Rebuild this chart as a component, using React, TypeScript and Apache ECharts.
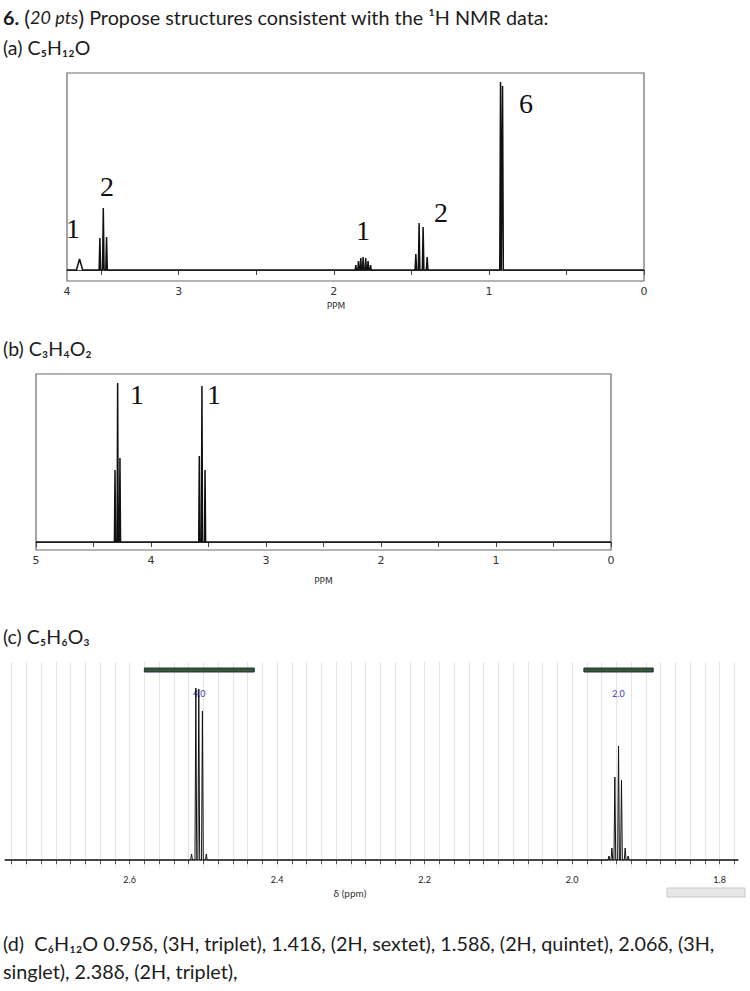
import React, { useEffect, useRef } from "react";
import * as echarts from "echarts";

// ---------- DATA ----------
// (a) C5H12O : [ppm, height, half-width]
const peaksA: number[][] = [
  [3.639, 11, 0.02],
  [3.508, 32, 0.005], [3.486, 62, 0.005], [3.465, 33, 0.005],
  [1.858, 5, 0.004], [1.841, 9, 0.004], [1.826, 12, 0.004], [1.811, 13, 0.004],
  [1.794, 12, 0.004], [1.779, 9, 0.004], [1.763, 5, 0.004],
  [1.471, 16, 0.005], [1.45, 47, 0.005], [1.424, 43, 0.005], [1.398, 13, 0.005],
  [0.925, 188, 0.005], [0.912, 184, 0.005],
];
const integA = ["1", "2", "1", "2", "6"];
const ticksA = [0, 0.5, 1, 1.5, 2, 2.5, 3, 3.5];
const labelValsA = [0, 1, 2, 3];
const edgeLabelA = "4";

// (b) C3H4O2
const peaksB: number[][] = [
  [4.313, 72, 0.005], [4.29, 159, 0.005], [4.27, 84, 0.005],
  [3.58, 86, 0.005], [3.557, 156, 0.005], [3.53, 72, 0.005],
];
const integB = ["1", "1"];

// (c) C5H6O3
const peaksC: number[][] = [
  [2.516, 6, 0.0012], [2.5102, 172, 0.0012], [2.5062, 171, 0.0012], [2.5013, 149, 0.0012], [2.496, 6, 0.0012],
  [1.95, 4, 0.0012], [1.946, 12, 0.0012], [1.942, 83, 0.0012], [1.937, 114, 0.0012],
  [1.933, 80, 0.0012], [1.928, 12, 0.0012], [1.924, 4, 0.0012],
];
const integralsC: number[][] = [
  [2.58, 2.431],
  [1.984, 1.89],
];
const integralLabelsC = ["4.0", "2.0"];
const labelValsC = [1.8, 2.0, 2.2, 2.4, 2.6];

// ---------- HELPERS ----------
function buildSpectrum(peaks: number[][], lo: number, hi: number) {
  const sorted = [...peaks].sort((a, b) => b[0] - a[0]);
  const pts: number[][] = [[hi, 0]];
  for (const [p, h, w] of sorted) {
    pts.push([p + w, 0], [p, h], [p - w, 0]);
  }
  pts.push([lo, 0]);
  return pts;
}

const FONT_BODY = "Lato, 'Open Sans', sans-serif";
const FONT_PEAK = "'Liberation Serif', 'DejaVu Serif', serif";
const FONT_AXIS = "'DejaVu Sans', sans-serif";
const TXT = "#1c1c1c";

const A_MAX = 3.72;
const C_MIN = 1.775;
const C_MAX = 2.769;

const ticksC: number[] = [];
for (let i = 89; i <= 138; i++) ticksC.push(+(i * 0.02).toFixed(2));

function text(x: number, y: number, t: string, font: any, extra: any = {}) {
  return {
    type: "text",
    x,
    y,
    silent: true,
    style: {
      text: t,
      fill: TXT,
      align: "left",
      verticalAlign: "middle",
      ...font,
      ...extra,
    },
  };
}

export default function App() {
  const ref = useRef<HTMLDivElement>(null);
  useEffect(() => {
    if (!ref.current) return;
    const chart = echarts.init(ref.current, null, { renderer: "svg" });

    const peakLabelPosA = [
      [73, 228], [107, 186], [363, 230], [441, 212], [526, 103],
    ];
    const peakLabelPosB = [
      [137, 394], [214, 394],
    ];

    const graphic: any[] = [
      {
        type: "text",
        x: 3,
        y: 17,
        silent: true,
        style: {
          text: "{b|6.} {p|(}{i|20 pts}{p|)} Propose structures consistent with the ¹H NMR data:",
          fill: TXT,
          fontFamily: FONT_BODY,
          fontSize: 19.8,
          verticalAlign: "middle",
          rich: {
            b: { fontWeight: "bold", fontSize: 19.8, fontFamily: FONT_BODY, fill: TXT },
            p: { fontSize: 22, fontFamily: FONT_BODY, fill: TXT },
            i: { fontStyle: "italic", fontSize: 18, fontFamily: FONT_BODY, fill: TXT },
          },
        },
      },
      text(3, 47, "(a) C₅H₁₂O", { fontFamily: FONT_BODY, fontSize: 19.5 }),
      text(3, 348, "(b) C₃H₄O₂", { fontFamily: FONT_BODY, fontSize: 19.5 }),
      text(3, 636, "(c) C₅H₆O₃", { fontFamily: FONT_BODY, fontSize: 19.5 }),
      text(3, 943, "(d)  C₆H₁₂O 0.95δ, (3H, triplet), 1.41δ, (2H, sextet), 1.58δ, (2H, quintet), 2.06δ, (3H,", { fontFamily: FONT_BODY, fontSize: 19.8 }),
      text(3, 971, "singlet), 2.38δ, (2H, triplet),", { fontFamily: FONT_BODY, fontSize: 19.8 }),
      text(336, 306, "PPM", { fontFamily: FONT_AXIS, fontSize: 9, fill: "#333", align: "center" }),
      text(350, 893, "δ (ppm)", { fontFamily: FONT_BODY, fontSize: 10, fill: "#333", align: "center" }),
      {
        type: "rect",
        silent: true,
        shape: { x: 667, y: 888, width: 78, height: 9 },
        style: { fill: "#e6e6e6", stroke: "#c9c9c9", lineWidth: 1 },
      },
    ];
    integA.forEach((t, i) => {
      graphic.push(text(peakLabelPosA[i][0], peakLabelPosA[i][1], t, { fontFamily: FONT_PEAK, fontSize: 28, align: "center", fill: "#111" }));
    });
    integB.forEach((t, i) => {
      graphic.push(text(peakLabelPosB[i][0], peakLabelPosB[i][1], t, { fontFamily: FONT_PEAK, fontSize: 28, align: "center", fill: "#111" }));
    });

    const option: any = {
      animation: false,
      backgroundColor: "#ffffff",
      grid: [
        { left: 67, top: 73, width: 577, height: 208, show: true, borderColor: "#6a6a6a", borderWidth: 1.2, backgroundColor: "transparent" },
        { left: 36, top: 374, width: 575, height: 176, show: true, borderColor: "#6a6a6a", borderWidth: 1.2, backgroundColor: "transparent" },
        { left: 5, top: 662, width: 733, height: 206, show: false },
      ],
      xAxis: [
        {
          gridIndex: 0, type: "value", inverse: true, min: 0, max: A_MAX,
          axisLine: { lineStyle: { color: "#444", width: 1.2 } },
          axisTick: { customValues: ticksA, length: 5, lineStyle: { color: "#444" } },
          axisLabel: {
            customValues: [...labelValsA, A_MAX],
            formatter: (v: number) => (v > 3.5 ? edgeLabelA : String(Math.round(v))),
            fontSize: 11, color: "#333", fontFamily: FONT_AXIS, margin: 5,
          },
          splitLine: { show: false },
        },
        {
          gridIndex: 1, type: "value", inverse: true, min: 0, max: 5, interval: 0.5,
          axisLine: { lineStyle: { color: "#444", width: 1.2 } },
          axisTick: { length: 5, lineStyle: { color: "#444" } },
          axisLabel: {
            formatter: (v: number) => (Math.abs(v - Math.round(v)) < 1e-6 ? String(Math.round(v)) : ""),
            fontSize: 11, color: "#333", fontFamily: FONT_AXIS, margin: 5,
          },
          splitLine: { show: false },
          name: "PPM", nameLocation: "middle", nameGap: 26,
          nameTextStyle: { fontSize: 9, color: "#333", fontFamily: FONT_AXIS },
        },
        {
          gridIndex: 2, type: "value", inverse: true, min: C_MIN, max: C_MAX,
          axisLine: { lineStyle: { color: "#555", width: 1.5 } },
          axisTick: { customValues: ticksC, length: 4, lineStyle: { color: "#555" } },
          axisLabel: {
            customValues: labelValsC,
            formatter: (v: number) => v.toFixed(1),
            fontSize: 9, color: "#222", fontFamily: FONT_BODY, margin: 7,
          },
          splitLine: { show: true, lineStyle: { color: "#e4e4e4", width: 1 } },
        },
      ],
      yAxis: [
        { gridIndex: 0, type: "value", min: -11, max: 197, show: false },
        { gridIndex: 1, type: "value", min: -8, max: 168, show: false },
        { gridIndex: 2, type: "value", min: -8, max: 198, show: false },
      ],
      series: [
        {
          type: "line", xAxisIndex: 0, yAxisIndex: 0, silent: true, showSymbol: false,
          data: buildSpectrum(peaksA, 0, A_MAX),
          lineStyle: { color: "#111", width: 1.5 },
        },
        {
          type: "line", xAxisIndex: 1, yAxisIndex: 1, silent: true, showSymbol: false,
          data: buildSpectrum(peaksB, 0, 5),
          lineStyle: { color: "#111", width: 1.5 },
        },
        {
          type: "line", xAxisIndex: 2, yAxisIndex: 2, silent: true, showSymbol: false,
          data: buildSpectrum(peaksC, C_MIN, C_MAX),
          lineStyle: { color: "#111", width: 1 },
        },
        {
          type: "custom", xAxisIndex: 2, yAxisIndex: 2, silent: true,
          data: integralsC.map((d) => [d[0], d[1], 0]),
          encode: { x: [0, 1], y: 2 },
          renderItem: (params: any, api: any) => {
            const x1 = api.coord([api.value(0), 0])[0];
            const x2 = api.coord([api.value(1), 0])[0];
            const top = params.coordSys.y;
            return {
              type: "group",
              children: [
                {
                  type: "rect",
                  shape: { x: Math.min(x1, x2), y: top + 6, width: Math.abs(x2 - x1), height: 4 },
                  style: { fill: "#35562f", stroke: "#22334a", lineWidth: 1 },
                },
                {
                  type: "text",
                  style: {
                    text: integralLabelsC[params.dataIndex],
                    x: (x1 + x2) / 2, y: top + 31,
                    fill: "#3b3bd0", fontSize: 9, fontFamily: FONT_BODY,
                    align: "center", verticalAlign: "middle",
                  },
                },
              ],
            };
          },
        },
      ],
      graphic,
    };
    chart.setOption(option);
    return () => chart.dispose();
  }, []);
  return (
    <div
      ref={ref}
      style={{ position: "absolute", left: 0, top: 0, width: 750, height: 991, background: "#fff" }}
    />
  );
}
